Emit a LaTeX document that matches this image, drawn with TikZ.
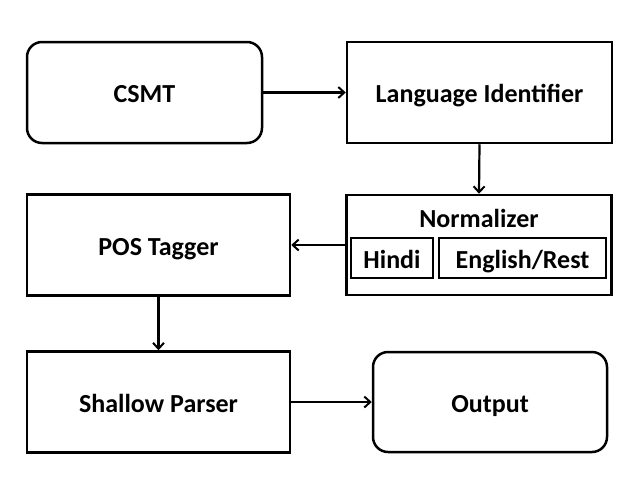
\documentclass[tikz,border=0pt]{standalone}
\usepackage{fontspec}
\setmainfont{Carlito}
\usetikzlibrary{arrows.meta}
\begin{document}
\begin{tikzpicture}[x=1pt,y=-1pt,
  lbl/.style={font=\bfseries\fontsize{26}{30}\selectfont, text height=20pt, text depth=0pt, inner sep=0pt},
  box/.style={lbl, draw, line width=2.5pt},
  rbox/.style={box, rounded corners=15pt},
  conn/.style={line width=2.2pt, -{Straight Barb[length=6pt,width=11pt,line width=2pt]}}]
\useasboundingbox (0,0) rectangle (637,477);
\node[rbox, minimum width=235pt, minimum height=101pt] (csmt) at (144.5,92.5) {CSMT};
\node[box, minimum width=265pt, minimum height=101pt] (li) at (479.5,92.5) {Language Identifier};
\node[box, minimum width=265pt, minimum height=100pt] (norm) at (479,245) {};
\node[lbl] (normt) at (479,217) {Normalizer};
\node[box, minimum width=82pt, minimum height=40pt] (hindi) at (392,258) {Hindi};
\node[box, minimum width=167pt, minimum height=40pt] (eng) at (522.5,258) {English/Rest};
\node[box, minimum width=263pt, minimum height=101pt] (pos) at (158.5,245) {POS Tagger};
\node[box, minimum width=263pt, minimum height=101pt] (sp) at (158.5,402) {Shallow Parser};
\node[rbox, minimum width=234pt, minimum height=100pt] (out) at (490,402) {Output};
\draw[conn] (csmt.east) -- (li.west);
\draw[conn] (li.south) -- (norm.north);
\draw[conn] (norm.west |- pos.east) -- (pos.east);
\draw[conn] (pos.south) -- (sp.north);
\draw[conn] (sp.east) -- (out.west);
\end{tikzpicture}
\end{document}
